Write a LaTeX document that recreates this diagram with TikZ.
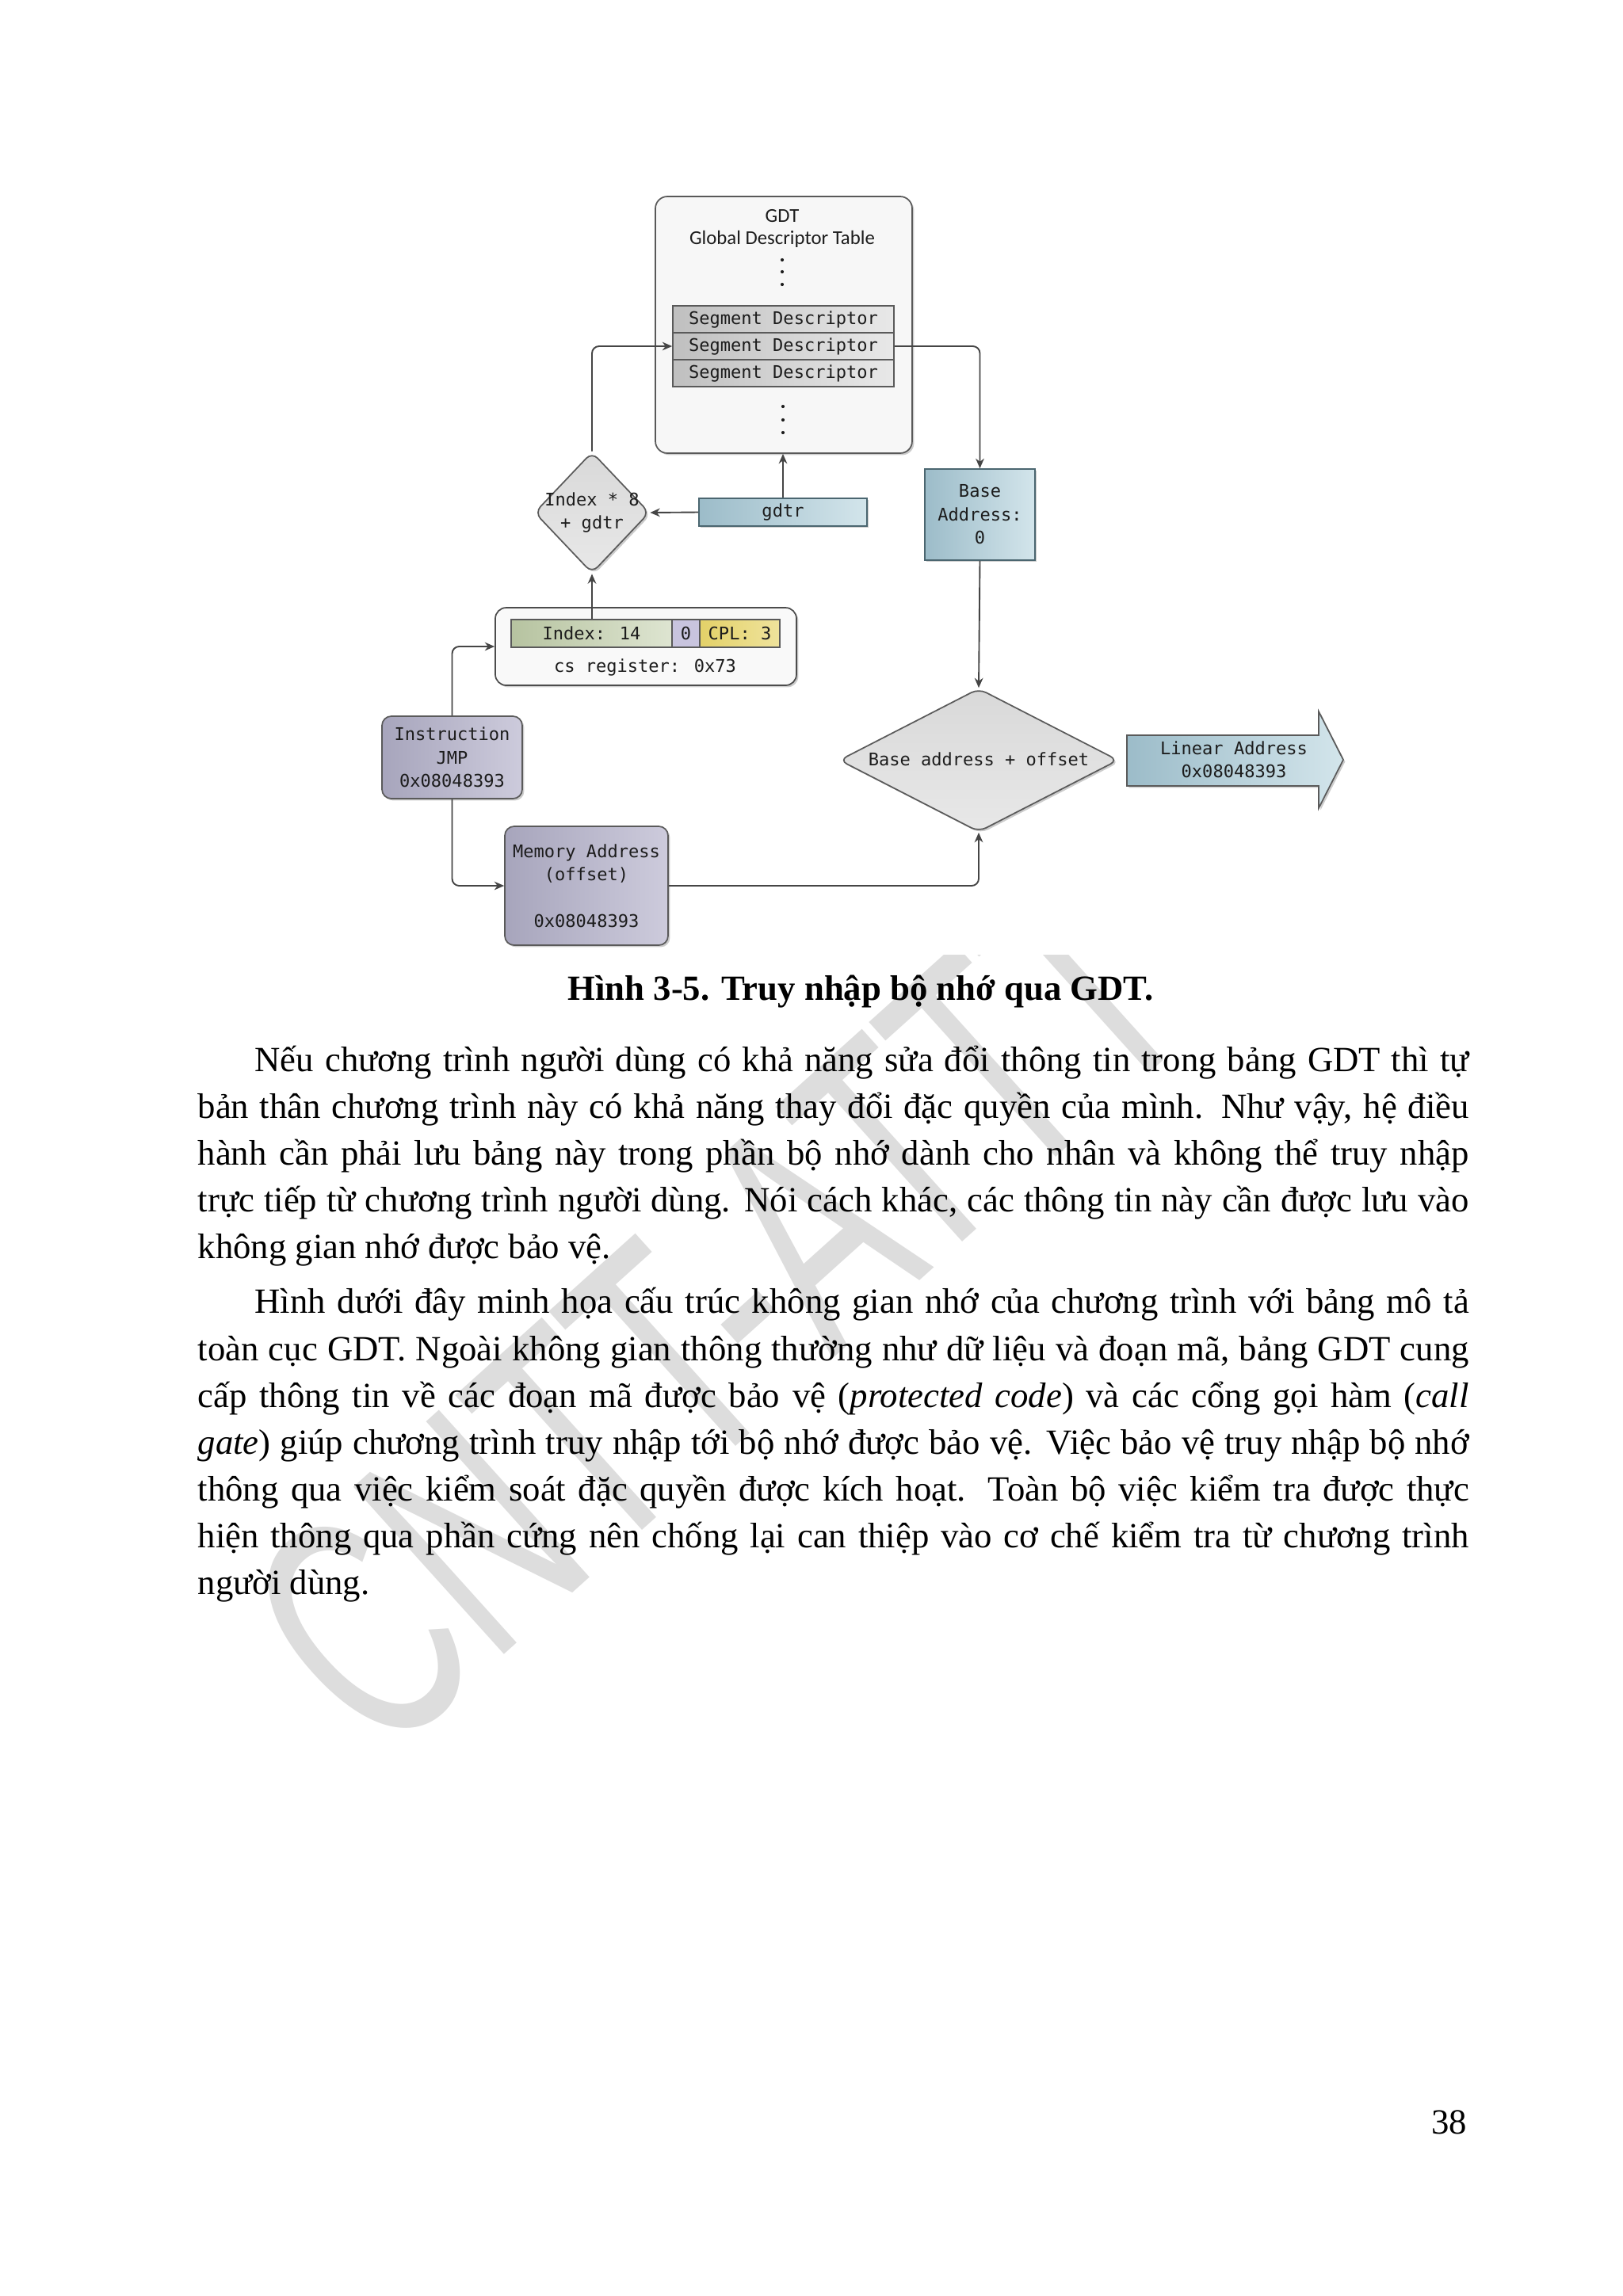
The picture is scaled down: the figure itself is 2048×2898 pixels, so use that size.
\documentclass[tikz,border=0pt]{standalone}
\usepackage{fontspec}
\setmainfont{Liberation Serif}
\newfontfamily\monof{DejaVu Sans Mono}
\newfontfamily\gdtf{Carlito}
\newfontfamily\wmf{Liberation Sans}
\usetikzlibrary{shapes.geometric,arrows.meta,shadows}
\def\pxu{0.2907pt}
\definecolor{lc}{HTML}{454545}
\definecolor{tc}{HTML}{1C1C1C}
\definecolor{bdr}{HTML}{5A5A5A}
\definecolor{HTML4b6670}{HTML}{4B6670}
\definecolor{bluea}{HTML}{9CBCC9}
\definecolor{blueb}{HTML}{D3E5EB}
\definecolor{purpa}{HTML}{A7A5BC}
\definecolor{purpb}{HTML}{CDCBDC}
\definecolor{idxa}{HTML}{B6C3A0}
\definecolor{idxb}{HTML}{DEE5D1}
\definecolor{zeroc}{HTML}{C8C4DE}
\definecolor{cpla}{HTML}{E3D168}
\definecolor{cplb}{HTML}{EFE39C}
\definecolor{wmc}{HTML}{DDDDDD}
\tikzset{
  conn/.style={draw=lc, line width=0.55pt, rounded corners=2.6pt, -{Stealth[length=3.6pt,width=3.1pt]}},
  mono/.style={font=\monof\fontsize{6.4}{8.6}\selectfont, text=tc, align=center, inner sep=0pt},
  shd/.style={drop shadow={shadow xshift=0.7pt, shadow yshift=-0.7pt, opacity=0.2, fill=black}},
  boxw/.style={draw=bdr, line width=0.5pt, inner sep=0pt},
  sdrow/.style={boxw, left color=gray!50, right color=gray!18, minimum width={279*\pxu}, minimum height={34*\pxu}, mono},
  bluebox/.style={boxw, draw=HTML4b6670, left color=bluea, right color=blueb},
  purplebox/.style={boxw, left color=purpa, right color=purpb, rounded corners=3.4pt, shd},
  greydia/.style={diamond, draw=bdr, line width=0.5pt, inner sep=0pt, top color=gray!30, bottom color=gray!18, rounded corners=3pt, shd},
  bodyline/.style={anchor=base west, inner sep=0pt, font=\fontsize{13}{17}\selectfont},
}
\begin{document}
\begin{tikzpicture}[x=0.2907pt, y=-0.2907pt]
\useasboundingbox (0,0) rectangle (2048,2898);
\fill[white] (0,0) rectangle (2048,2898);

% watermark
\begin{scope}
\clip (0,1205) rectangle (2048,2898);
\node[text=wmc, rotate=42, inner sep=0pt] (wm) at (905,1655)
  {\scalebox{0.63}[1]{\wmf\fontsize{120}{120}\selectfont CNTT-ATTT}};
\end{scope}

% GDT table
\node[boxw, draw=gray!70!black, fill=gray!6, rounded corners=4.4pt, minimum width={324*\pxu}, minimum height={324*\pxu}, shd] (gdt) at (989,410) {};
\node[font=\gdtf\fontsize{7.2}{8.4}\selectfont, text=tc, inner sep=0pt] (gdtT) at (987,273) {GDT};
\node[font=\gdtf\fontsize{7.2}{8.4}\selectfont, text=tc, inner sep=0pt] (gdtG) at (987,302) {Global Descriptor Table};
\foreach \yy in {328,343,359} \fill[tc] (987,\yy) circle (0.6pt);
\foreach \yy in {513,530,546} \fill[tc] (988,\yy) circle (0.6pt);
\node[sdrow] (sd1) at (988.5,403) {Segment Descriptor};
\node[sdrow] (sd2) at (988.5,437) {Segment Descriptor};
\node[sdrow] (sd3) at (988.5,471) {Segment Descriptor};

% gdtr
\node[bluebox, minimum width={212*\pxu}, minimum height={35*\pxu}, mono, shd] (gdtr) at (988,646.5) {gdtr};

% index diamond
\node[greydia, minimum width={145*\pxu}, minimum height={153*\pxu}] (idx) at (747,647) {};
\node[mono] (idxT) at (747,647) {Index * 8\\+ gdtr};

% cs register
\node[boxw, draw=gray!60!black, fill=gray!5, rounded corners=4pt, minimum width={380*\pxu}, minimum height={98*\pxu}, shd] (cs) at (815,816) {};
\node[boxw, left color=idxa, right color=idxb, minimum width={203*\pxu}, minimum height={35*\pxu}, mono] (ix) at (746.5,799.5) {Index: 14};
\node[boxw, fill=zeroc, minimum width={35*\pxu}, minimum height={35*\pxu}, mono] (zero) at (865.5,799.5) {0};
\node[boxw, left color=cpla, right color=cplb, minimum width={101*\pxu}, minimum height={35*\pxu}, mono] (cpl) at (933.5,799.5) {CPL: 3};
\node[mono] (csT) at (814,842) {cs register: 0x73};

% instruction and memory
\node[purplebox, minimum width={177*\pxu}, minimum height={104*\pxu}, mono] (ins) at (570.5,956) {Instruction\\JMP\\0x08048393};
\node[purplebox, minimum width={206*\pxu}, minimum height={150*\pxu}, mono] (mem) at (740,1118) {Memory Address\\(offset)\\[8.4pt]0x08048393};

% base address
\node[bluebox, minimum width={139*\pxu}, minimum height={115*\pxu}, mono, shd] (base) at (1236.5,649.5) {Base\\Address:\\0};

% sum diamond
\node[greydia, minimum width={352*\pxu}, minimum height={181*\pxu}] (sum) at (1235,959.5) {};
\node[mono] (sumT) at (1235,958) {Base address + offset};

% linear address arrow
\filldraw[draw=bdr, line width=0.5pt, left color=bluea, right color=blueb, drop shadow={shadow xshift=0.7pt, shadow yshift=-0.7pt, opacity=0.2, fill=black}]
  (1422,928) -- (1664,928) -- (1664,898) -- (1695,959) -- (1664,1020) -- (1664,992) -- (1422,992) -- cycle;
\node[mono, font=\monof\fontsize{6.4}{8.4}\selectfont] (lin) at (1557,958.5) {Linear Address\\0x08048393};

% connectors
\draw[conn] (idx.north) |- (sd2.west);
\draw[conn] (sd2.east) -| (base.north);
\draw[conn] (gdtr.north) -- (gdtr.north |- gdt.south);
\draw[conn] (gdtr.west) -- (idx.east);
\draw[conn] (ix.north -| idx.south) -- (idx.south);
\draw[conn] (ins.north) |- (cs.west);
\draw[conn] (ins.south) |- (mem.west);
\draw[conn] (mem.east) -| (sum.south);
\draw[conn] (base.south) -- (sum.north);

% caption
\node[anchor=base, inner sep=0pt, font=\fontsize{13}{17}\selectfont\bfseries] (cap) at (1086,1262) {Hình 3-5. Truy nhập bộ nhớ qua GDT.};

% paragraph 1
\node[bodyline] (p1a) at (321,1352) {\makebox[445.4pt][s]{Nếu chương trình người dùng có khả năng sửa đổi thông tin trong bảng GDT thì tự}};
\node[bodyline] (p1b) at (249,1411) {\makebox[466.3pt][s]{bản thân chương trình này có khả năng thay đổi đặc quyền của mình. Như vậy, hệ điều}};
\node[bodyline] (p1c) at (249,1470) {\makebox[466.3pt][s]{hành cần phải lưu bảng này trong phần bộ nhớ dành cho nhân và không thể truy nhập}};
\node[bodyline] (p1d) at (249,1529) {\makebox[466.3pt][s]{trực tiếp từ chương trình người dùng. Nói cách khác, các thông tin này cần được lưu vào}};
\node[bodyline] (p1e) at (249,1588) {không gian nhớ được bảo vệ.};

% paragraph 2
\node[bodyline] (p2a) at (321,1657) {\makebox[445.4pt][s]{Hình dưới đây minh họa cấu trúc không gian nhớ của chương trình với bảng mô tả}};
\node[bodyline] (p2b) at (249,1717) {\makebox[466.3pt][s]{toàn cục GDT. Ngoài không gian thông thường như dữ liệu và đoạn mã, bảng GDT cung}};
\node[bodyline] (p2c) at (249,1776) {\makebox[466.3pt][s]{cấp thông tin về các đoạn mã được bảo vệ (\textit{protected code}) và các cổng gọi hàm (\textit{call}}};
\node[bodyline] (p2d) at (249,1835) {\makebox[466.3pt][s]{\textit{gate}) giúp chương trình truy nhập tới bộ nhớ được bảo vệ. Việc bảo vệ truy nhập bộ nhớ}};
\node[bodyline] (p2e) at (249,1894) {\makebox[466.3pt][s]{thông qua việc kiểm soát đặc quyền được kích hoạt. Toàn bộ việc kiểm tra được thực}};
\node[bodyline] (p2f) at (249,1953) {\makebox[466.3pt][s]{hiện thông qua phần cứng nên chống lại can thiệp vào cơ chế kiểm tra từ chương trình}};
\node[bodyline] (p2g) at (249,2012) {người dùng.};

% page number
\node[anchor=base east, inner sep=0pt, font=\fontsize{13}{17}\selectfont] (pg) at (1852,2693) {38};
\end{tikzpicture}
\end{document}
